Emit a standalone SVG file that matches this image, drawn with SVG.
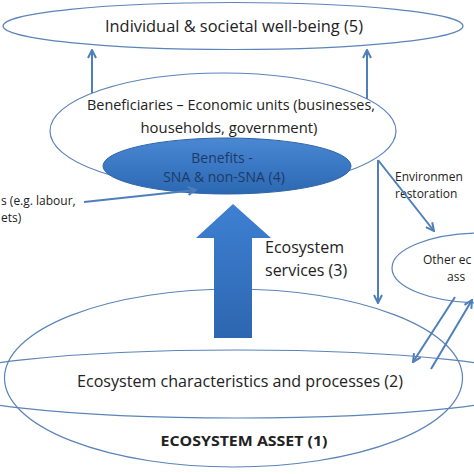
<svg xmlns="http://www.w3.org/2000/svg" width="474" height="474" viewBox="0 0 474 474">
<defs>
<style>
.ol{fill:#ffffff;stroke:#5b84b8;stroke-width:1.2}
.ln{fill:none;stroke:#4f7fbb;stroke-width:2}
.t{font-family:"Open Sans","Liberation Sans",sans-serif;fill:#222222;text-anchor:middle}
.tl{font-family:"Open Sans","Liberation Sans",sans-serif;fill:#222222;text-anchor:start}
.tb{font-family:"Open Sans","Liberation Sans",sans-serif;fill:#1d3a66;text-anchor:middle}
</style>
<marker id="ah" viewBox="0 0 10 10" refX="9" refY="5" markerWidth="10" markerHeight="10" markerUnits="userSpaceOnUse" orient="auto">
<path d="M1,1 L9,5 L1,9" fill="none" stroke="#4f7fbb" stroke-width="2"/>
</marker>
<linearGradient id="gb" x1="0" y1="0" x2="0" y2="1">
<stop offset="0" stop-color="#4a88d4"/>
<stop offset="1" stop-color="#2c68b2"/>
</linearGradient>
<linearGradient id="ga" x1="0" y1="0" x2="0" y2="1">
<stop offset="0" stop-color="#3e80d2"/>
<stop offset="1" stop-color="#2d66b0"/>
</linearGradient>
</defs>
<rect width="474" height="474" fill="#ffffff"/>

<g id="asset">
<ellipse class="ol" cx="233.5" cy="378" rx="229" ry="89"/>
<text class="t" x="244" y="446" font-size="15" font-weight="bold" textLength="167" lengthAdjust="spacingAndGlyphs">ECOSYSTEM ASSET (1)</text>
</g>
<g id="characteristics">
<ellipse class="ol" cx="237" cy="384" rx="304" ry="34" style="fill:none"/>
<text class="t" x="240" y="387" font-size="17" textLength="326" lengthAdjust="spacingAndGlyphs">Ecosystem characteristics and processes (2)</text>
</g>
<g id="other">
<ellipse class="ol" cx="482" cy="268" rx="90" ry="35"/>
<text class="tl" x="423" y="264" font-size="12">Other ec</text>
<text class="tl" x="447" y="281" font-size="12">ass</text>
</g>
<g id="wellbeing">
<ellipse class="ol" cx="233" cy="26" rx="230" ry="23.5"/>
<text class="t" x="234" y="32" font-size="16" textLength="258" lengthAdjust="spacingAndGlyphs">Individual &amp; societal well-being (5)</text>
</g>
<g id="beneficiaries">
<ellipse class="ol" cx="223" cy="131" rx="173" ry="58"/>
<text class="t" x="231" y="110" font-size="15" textLength="288" lengthAdjust="spacingAndGlyphs">Beneficiaries – Economic units (businesses,</text>
<text class="t" x="229" y="133" font-size="15" textLength="177" lengthAdjust="spacingAndGlyphs">households, government)</text>
</g>
<g id="benefits">
<ellipse cx="227" cy="166" rx="124" ry="28" fill="url(#gb)" stroke="#2f64a8" stroke-width="1"/>
<text class="tb" x="222" y="163" font-size="14">Benefits -</text>
<text class="tb" x="224" y="182" font-size="14">SNA &amp; non-SNA (4)</text>
</g>
<g id="services">
<path d="M233,204 L271,238 L252,238 L252,338 L214,338 L214,238 L196,238 Z" fill="url(#ga)"/>
<text class="tl" x="265" y="253" font-size="16">Ecosystem</text>
<text class="tl" x="265" y="276" font-size="16">services (3)</text>
</g>
<g id="labels">
<text class="tl" x="1" y="205" font-size="12">s (e.g. labour,</text>
<text class="tl" x="1" y="222" font-size="12">ets)</text>
<text class="tl" x="395" y="181" font-size="12">Environmen</text>
<text class="tl" x="395" y="198" font-size="12">restoration</text>
</g>
<g id="connectors">
<line class="ln" x1="92" y1="93" x2="92" y2="50" marker-end="url(#ah)"/>
<line class="ln" x1="367" y1="99" x2="367" y2="50" marker-end="url(#ah)"/>
<line class="ln" x1="84" y1="202" x2="196" y2="190" marker-end="url(#ah)"/>
<line class="ln" x1="378" y1="160" x2="378" y2="303" marker-end="url(#ah)"/>
<line class="ln" x1="378" y1="160" x2="434" y2="231" marker-end="url(#ah)"/>
<line class="ln" x1="455" y1="297" x2="413" y2="362" marker-end="url(#ah)"/>
<line class="ln" x1="431" y1="369" x2="472" y2="300" marker-end="url(#ah)"/>
</g>
</svg>
